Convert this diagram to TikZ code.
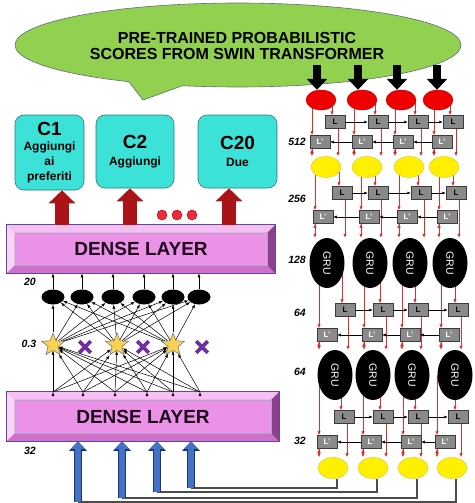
\documentclass[tikz,border=0pt]{standalone}
\usepackage{fontspec}
\setmainfont{Liberation Sans}
\usetikzlibrary{arrows.meta,shapes.geometric,shapes.misc,backgrounds}
\definecolor{bubblegreen}{RGB}{146,208,80}
\definecolor{bubbleline}{RGB}{95,110,120}
\definecolor{outcyan}{RGB}{60,226,216}
\definecolor{outteal}{RGB}{50,120,125}
\definecolor{denseface}{RGB}{236,146,230}
\definecolor{denselight}{RGB}{245,192,241}
\definecolor{densemid}{RGB}{206,112,200}
\definecolor{densedark}{RGB}{140,66,136}
\definecolor{denseline}{RGB}{100,70,160}
\definecolor{densetext}{RGB}{30,10,30}
\definecolor{blockcol}{RGB}{170,20,25}
\definecolor{dotred}{RGB}{240,40,60}
\definecolor{starfill}{RGB}{248,210,80}
\definecolor{starline}{RGB}{120,120,130}
\definecolor{crosspurple}{RGB}{112,48,160}
\definecolor{cellgray}{RGB}{138,138,138}
\definecolor{cellline}{RGB}{60,60,60}
\definecolor{linkred}{RGB}{228,45,45}
\definecolor{redfill}{RGB}{240,0,0}
\definecolor{yellowfill}{RGB}{255,240,0}
\definecolor{yellowline}{RGB}{230,200,60}
\definecolor{blueshaft}{RGB}{68,114,196}
\definecolor{blueedge}{RGB}{30,50,120}

\begin{document}
\begin{tikzpicture}[x=1pt,y=-1pt]
\tikzstyle{every node}+=[inner sep=0pt]
\tikzstyle{bubbletext}=[align=center, font=\bfseries\fontsize{16}{16}\selectfont]
\tikzstyle{outbox}=[draw=outteal, fill=outcyan, line width=0.6pt, rounded corners=9pt, align=center, font=\bfseries\fontsize{12}{15}\selectfont]
\tikzstyle{denselayer}=[draw=denseline, fill=denseface, line width=0.6pt, text=densetext, font=\bfseries\fontsize{19}{19}\selectfont]
\tikzstyle{bigarrow}=[draw=blockcol, line width=14pt, -{Triangle[width=26pt,length=13pt]}]
\tikzstyle{downarrow}=[draw=black, line width=8pt, -{Triangle[width=20pt,length=11pt]}]
\tikzstyle{bluearr}=[preaction={draw=blueedge, line width=7.6pt, -{Triangle[width=17pt,length=9.5pt]}}, draw=blueshaft, line width=5.6pt, -{Triangle[width=14pt,length=7.5pt]}]
\tikzstyle{reddot}=[circle, draw=red!60!black, fill=dotred, minimum size=10pt]
\tikzstyle{blackell}=[ellipse, fill=black, minimum width=23pt, minimum height=15pt]
\tikzstyle{starnode}=[star, star points=5, star point ratio=2.3, draw=starline, fill=starfill, line width=0.6pt, minimum size=24pt]
\tikzstyle{crossnode}=[cross out, draw=crosspurple, line width=3.6pt, minimum size=8pt]
\tikzstyle{netarr}=[draw=black, line width=0.5pt, -{Latex[length=4pt,width=3pt]}]
\tikzstyle{lbl}=[font=\bfseries\itshape\fontsize{10.5}{10.5}\selectfont]
\tikzstyle{redell}=[ellipse, fill=redfill, draw=red!70!black, line width=0.4pt, minimum width=30pt, minimum height=20pt]
\tikzstyle{yellell}=[ellipse, fill=yellowfill, draw=yellowline, line width=0.5pt, minimum width=30pt, minimum height=21pt]
\tikzstyle{gruell}=[ellipse, fill=black, minimum width=35pt, minimum height=50pt, text=white, font=\fontsize{10.5}{10.5}\selectfont]
\tikzstyle{cell}=[draw=cellline, fill=cellgray, line width=0.5pt, minimum width=20pt, minimum height=13pt, font=\bfseries\fontsize{8}{8}\selectfont]
\tikzstyle{cellp}=[cell, text=white]
\tikzstyle{redlink}=[draw=linkred, line width=0.8pt, -{Latex[length=4pt,width=3.5pt]}]
\tikzstyle{harr}=[draw=black, line width=0.6pt, -{Latex[length=3.5pt,width=3pt]}]
\tikzstyle{feedline}=[draw=black!70, line width=1.8pt]
\useasboundingbox (0,0) rectangle (474,503);
% speech bubble
\filldraw[fill=bubblegreen, draw=bubbleline, line width=0.6pt] (238,45) ellipse [x radius=223pt, y radius=42pt];
\fill[bubblegreen] (126,78) -- (143,100) -- (190,83) -- cycle;
\draw[bubbleline, line width=0.6pt] (128.5,81.3) -- (143,100) -- (182.5,85.7);
\node[bubbletext] (scores) at (237,46) {PRE-TRAINED PROBABILISTIC\\SCORES FROM SWIN TRANSFORMER};
% output classes
\node[outbox, minimum width=69pt, minimum height=75pt] (c1) at (49.5,152.5) {{\fontsize{19}{15}\selectfont C1}\\Aggiungi\\ai\\preferiti};
\node[outbox, minimum width=78pt, minimum height=73pt] (c2) at (135,151.5) {{\fontsize{19}{15}\selectfont C2}\\[2pt]Aggiungi};
\node[outbox, minimum width=79pt, minimum height=73pt] (c20) at (237.5,151.5) {{\fontsize{19}{15}\selectfont C20}\\[2pt]Due};
% upper dense layer
\node[denselayer, minimum width=268pt, minimum height=48pt] (dense1) at (141,249) {DENSE LAYER};
\fill[denselight] (dense1.north west) -- (dense1.north east) -- ([shift={(-8,8)}]dense1.north east) -- ([shift={(8,8)}]dense1.north west) -- cycle;
\fill[denselight!70!white] (dense1.north west) -- ([shift={(8,8)}]dense1.north west) -- ([shift={(8,-8)}]dense1.south west) -- (dense1.south west) -- cycle;
\fill[densemid] (dense1.south west) -- ([shift={(8,-8)}]dense1.south west) -- ([shift={(-8,-8)}]dense1.south east) -- (dense1.south east) -- cycle;
\fill[densedark] (dense1.north east) -- ([shift={(-8,8)}]dense1.north east) -- ([shift={(-8,-8)}]dense1.south east) -- (dense1.south east) -- cycle;
\draw[denseline!50, line width=0.3pt] ([shift={(8,8)}]dense1.north west) rectangle ([shift={(-8,-8)}]dense1.south east);
\draw[denseline, line width=0.6pt] (dense1.north west) rectangle (dense1.south east);
\draw[bigarrow] ([xshift=12.5pt]c1.south |- dense1.north) -- ([xshift=12.5pt]c1.south);
\draw[bigarrow] ([xshift=-5pt]c2.south |- dense1.north) -- ([xshift=-5pt]c2.south);
\draw[bigarrow] ([xshift=-8.5pt]c20.south |- dense1.north) -- ([xshift=-8.5pt]c20.south);
\node[reddot] (dot1) at (162,215) {};
\node[reddot] (dot2) at (177,215) {};
\node[reddot] (dot3) at (192,215) {};
% left labels
\node[lbl] (n20) at (30,282) {20};
\node[lbl] (n03) at (29,344) {0.3};
\node[lbl] (n32) at (30,451) {32};
% hidden units
\node[blackell] (e1) at (53,297) {};
\node[blackell] (e2) at (82,297) {};
\node[blackell] (e3) at (113,297) {};
\node[blackell] (e4) at (144,297) {};
\node[blackell] (e5) at (173,297) {};
\node[blackell] (e6) at (199,297) {};
\draw[netarr] (e1) edge (e1 |- dense1.south) (e2) edge (e2 |- dense1.south) (e3) edge (e3 |- dense1.south) (e4) edge (e4 |- dense1.south) (e5) edge (e5 |- dense1.south) (e6) edge (e6 |- dense1.south);
% dropout
\node[starnode] (s1) at (53,345) {};
\node[starnode] (s2) at (117,345) {};
\node[starnode] (s3) at (173,345) {};
\node[crossnode] (x1) at (85,347) {};
\node[crossnode] (x2) at (143,347) {};
\node[crossnode] (x3) at (202,347) {};
\draw[netarr] (s1) edge (e1) edge (e2) edge (e3) edge (e4) edge (e5) edge (e6);
\draw[netarr] (s2) edge (e1) edge (e2) edge (e3) edge (e4) edge (e5) edge (e6);
\draw[netarr] (s3) edge (e1) edge (e2) edge (e3) edge (e4) edge (e5) edge (e6);
% lower dense layer
\node[denselayer, minimum width=272pt, minimum height=49pt] (dense2) at (143,416.5) {DENSE LAYER};
\fill[denselight] (dense2.north west) -- (dense2.north east) -- ([shift={(-8,8)}]dense2.north east) -- ([shift={(8,8)}]dense2.north west) -- cycle;
\fill[denselight!70!white] (dense2.north west) -- ([shift={(8,8)}]dense2.north west) -- ([shift={(8,-8)}]dense2.south west) -- (dense2.south west) -- cycle;
\fill[densemid] (dense2.south west) -- ([shift={(8,-8)}]dense2.south west) -- ([shift={(-8,-8)}]dense2.south east) -- (dense2.south east) -- cycle;
\fill[densedark] (dense2.north east) -- ([shift={(-8,8)}]dense2.north east) -- ([shift={(-8,-8)}]dense2.south east) -- (dense2.south east) -- cycle;
\draw[denseline!50, line width=0.3pt] ([shift={(8,8)}]dense2.north west) rectangle ([shift={(-8,-8)}]dense2.south east);
\draw[denseline, line width=0.6pt] (dense2.north west) rectangle (dense2.south east);
\coordinate (p1) at (53,392);
\coordinate (p2) at (83,392);
\coordinate (p3) at (115,392);
\coordinate (p4) at (147,392);
\coordinate (p5) at (173,392);
\coordinate (p6) at (200,392);
\draw[netarr] (p1) edge (s1) edge (s2) edge (s3);
\draw[netarr] (p2) edge (s1) edge (s2) edge (s3);
\draw[netarr] (p3) edge (s1) edge (s2) edge (s3);
\draw[netarr] (p4) edge (s1) edge (s2) edge (s3);
\draw[netarr] (p5) edge (s1) edge (s2) edge (s3);
\draw[netarr] (p6) edge (s1) edge (s2) edge (s3);
% right labels
\node[lbl, anchor=east] (n512) at (306,142) {512};
\node[lbl, anchor=east] (n256) at (306,199) {256};
\node[lbl, anchor=east] (n128) at (306,260) {128};
\node[lbl, anchor=east] (n64a) at (306,313) {64};
\node[lbl, anchor=east] (n64b) at (306,372) {64};
\node[lbl, anchor=east] (n32b) at (306,441) {32};
% score inputs
\node[redell] (r1) at (321,100) {};
\node[redell] (r2) at (362,100) {};
\node[redell] (r3) at (401,100) {};
\node[redell] (r4) at (438,100) {};
\draw[downarrow] ([xshift=-4pt,yshift=25pt]r1.north) -- ([xshift=-4pt]r1.north);
\draw[downarrow] ([xshift=-4pt,yshift=25pt]r2.north) -- ([xshift=-4pt]r2.north);
\draw[downarrow] ([xshift=-4pt,yshift=25pt]r3.north) -- ([xshift=-4pt]r3.north);
\draw[downarrow] ([xshift=-1pt,yshift=25pt]r4.north) -- ([xshift=-1pt]r4.north);
% stage 1 (512)
\node[cell] (l11) at (335,122) {L};
\node[cell] (l12) at (378,122) {L};
\node[cell] (l13) at (418,122) {L};
\node[cell] (l14) at (453,122) {L};
\node[cellp] (m11) at (320,142) {L'};
\node[cellp] (m12) at (362,142) {L'};
\node[cellp] (m13) at (403,142) {L'};
\node[cellp] (m14) at (442,142) {L'};
\node[yellell] (y1) at (326,167) {};
\node[yellell] (y2) at (367,167) {};
\node[yellell] (y3) at (409,167) {};
\node[yellell] (y4) at (444,167) {};
% stage 2 (256)
\node[cell] (l21) at (342,193) {L};
\node[cell] (l22) at (378,193) {L};
\node[cell] (l23) at (421,193) {L};
\node[cell] (l24) at (456,193) {L};
\node[cellp] (m21) at (323,217) {L'};
\node[cellp] (m22) at (369,217) {L'};
\node[cellp] (m23) at (407,217) {L'};
\node[cellp] (m24) at (447,217) {L'};
\node[gruell] (g1) at (327,263) {\rotatebox{-90}{GRU}};
\node[gruell] (g2) at (370,263) {\rotatebox{-90}{GRU}};
\node[gruell] (g3) at (410,263) {\rotatebox{-90}{GRU}};
\node[gruell] (g4) at (450,263) {\rotatebox{-90}{GRU}};
% stage 3 (64)
\node[cell] (l31) at (345,310) {L};
\node[cell] (l32) at (383,310) {L};
\node[cell] (l33) at (418,310) {L};
\node[cell] (l34) at (458,310) {L};
\node[cellp] (m31) at (327,335) {L'};
\node[cellp] (m32) at (372,335) {L'};
\node[cellp] (m33) at (410,335) {L'};
\node[cellp] (m34) at (449,335) {L'};
\node[gruell] (h1) at (335,375) {\rotatebox{-90}{GRU}};
\node[gruell] (h2) at (373,375) {\rotatebox{-90}{GRU}};
\node[gruell] (h3) at (412,375) {\rotatebox{-90}{GRU}};
\node[gruell] (h4) at (455,375) {\rotatebox{-90}{GRU}};
% stage 4 (32)
\node[cell] (l41) at (344,417) {L};
\node[cell] (l42) at (383,417) {L};
\node[cell] (l43) at (418,417) {L};
\node[cell] (l44) at (458,417) {L};
\node[cellp] (m41) at (327,442) {L'};
\node[cellp] (m42) at (371,442) {L'};
\node[cellp] (m43) at (411,442) {L'};
\node[cellp] (m44) at (445,442) {L'};
\node[yellell] (z1) at (333,468) {};
\node[yellell] (z2) at (373,468) {};
\node[yellell] (z3) at (413,468) {};
\node[yellell] (z4) at (452,468) {};
% forward and backward links
\draw[harr] (l11) edge (l12) (l12) edge (l13) (l13) edge (l14);
\draw[harr] (m14) edge (m13) (m13) edge (m12) (m12) edge (m11);
\draw[harr] (l21) edge (l22) (l22) edge (l23) (l23) edge (l24);
\draw[harr] (m24) edge (m23) (m23) edge (m22) (m22) edge (m21);
\draw[harr] (l31) edge (l32) (l32) edge (l33) (l33) edge (l34);
\draw[harr] (m34) edge (m33) (m33) edge (m32) (m32) edge (m31);
\draw[harr] (l41) edge (l42) (l42) edge (l43) (l43) edge (l44);
\draw[harr] (m44) edge (m43) (m43) edge (m42) (m42) edge (m41);
\begin{scope}[on background layer]
\draw[redlink] ([xshift=-8pt]m11.north |- r1.center) edge ([xshift=-8pt]m11.north) ([xshift=-3pt]l11.north |- r1.center) edge ([xshift=-3pt]l11.north) ([xshift=3pt]l11.south) edge ([xshift=3pt]l11.south |- y1.north) ([xshift=-8pt]m11.south) edge ([xshift=-8pt]m11.south |- y1.north);
\draw[redlink] ([xshift=-8pt]m12.north |- r2.center) edge ([xshift=-8pt]m12.north) ([xshift=-3pt]l12.north |- r2.center) edge ([xshift=-3pt]l12.north) ([xshift=3pt]l12.south) edge ([xshift=3pt]l12.south |- y2.north) ([xshift=-8pt]m12.south) edge ([xshift=-8pt]m12.south |- y2.north);
\draw[redlink] ([xshift=-8pt]m13.north |- r3.center) edge ([xshift=-8pt]m13.north) ([xshift=-3pt]l13.north |- r3.center) edge ([xshift=-3pt]l13.north) ([xshift=3pt]l13.south) edge ([xshift=3pt]l13.south |- y3.north) ([xshift=-8pt]m13.south) edge ([xshift=-8pt]m13.south |- y3.north);
\draw[redlink] ([xshift=-8pt]m14.north |- r4.center) edge ([xshift=-8pt]m14.north) ([xshift=-3pt]l14.north |- r4.center) edge ([xshift=-3pt]l14.north) ([xshift=3pt]l14.south) edge ([xshift=3pt]l14.south |- y4.north) ([xshift=-8pt]m14.south) edge ([xshift=-8pt]m14.south |- y4.north);
\draw[redlink] ([xshift=-8pt]m21.north |- y1.center) edge ([xshift=-8pt]m21.north) ([xshift=-3pt]l21.north |- y1.center) edge ([xshift=-3pt]l21.north) ([xshift=3pt]l21.south) edge ([xshift=3pt]l21.south |- g1.north) ([xshift=-8pt]m21.south) edge ([xshift=-8pt]m21.south |- g1.north);
\draw[redlink] ([xshift=-8pt]m22.north |- y2.center) edge ([xshift=-8pt]m22.north) ([xshift=-3pt]l22.north |- y2.center) edge ([xshift=-3pt]l22.north) ([xshift=3pt]l22.south) edge ([xshift=3pt]l22.south |- g2.north) ([xshift=-8pt]m22.south) edge ([xshift=-8pt]m22.south |- g2.north);
\draw[redlink] ([xshift=-8pt]m23.north |- y3.center) edge ([xshift=-8pt]m23.north) ([xshift=-3pt]l23.north |- y3.center) edge ([xshift=-3pt]l23.north) ([xshift=3pt]l23.south) edge ([xshift=3pt]l23.south |- g3.north) ([xshift=-8pt]m23.south) edge ([xshift=-8pt]m23.south |- g3.north);
\draw[redlink] ([xshift=-8pt]m24.north |- y4.center) edge ([xshift=-8pt]m24.north) ([xshift=-3pt]l24.north |- y4.center) edge ([xshift=-3pt]l24.north) ([xshift=3pt]l24.south) edge ([xshift=3pt]l24.south |- g4.north) ([xshift=-8pt]m24.south) edge ([xshift=-8pt]m24.south |- g4.north);
\draw[redlink] ([xshift=-8pt]m31.north |- g1.center) edge ([xshift=-8pt]m31.north) ([xshift=-3pt]l31.north |- g1.center) edge ([xshift=-3pt]l31.north) ([xshift=3pt]l31.south) edge ([xshift=3pt]l31.south |- h1.north) ([xshift=-8pt]m31.south) edge ([xshift=-8pt]m31.south |- h1.north);
\draw[redlink] ([xshift=-8pt]m32.north |- g2.center) edge ([xshift=-8pt]m32.north) ([xshift=-3pt]l32.north |- g2.center) edge ([xshift=-3pt]l32.north) ([xshift=3pt]l32.south) edge ([xshift=3pt]l32.south |- h2.north) ([xshift=-8pt]m32.south) edge ([xshift=-8pt]m32.south |- h2.north);
\draw[redlink] ([xshift=-8pt]m33.north |- g3.center) edge ([xshift=-8pt]m33.north) ([xshift=-3pt]l33.north |- g3.center) edge ([xshift=-3pt]l33.north) ([xshift=3pt]l33.south) edge ([xshift=3pt]l33.south |- h3.north) ([xshift=-8pt]m33.south) edge ([xshift=-8pt]m33.south |- h3.north);
\draw[redlink] ([xshift=-8pt]m34.north |- g4.center) edge ([xshift=-8pt]m34.north) ([xshift=-3pt]l34.north |- g4.center) edge ([xshift=-3pt]l34.north) ([xshift=3pt]l34.south) edge ([xshift=3pt]l34.south |- h4.north) ([xshift=-8pt]m34.south) edge ([xshift=-8pt]m34.south |- h4.north);
\draw[redlink] ([xshift=-8pt]m41.north |- h1.center) edge ([xshift=-8pt]m41.north) ([xshift=-3pt]l41.north |- h1.center) edge ([xshift=-3pt]l41.north) ([xshift=3pt]l41.south) edge ([xshift=3pt]l41.south |- z1.north) ([xshift=-8pt]m41.south) edge ([xshift=-8pt]m41.south |- z1.north);
\draw[redlink] ([xshift=-8pt]m42.north |- h2.center) edge ([xshift=-8pt]m42.north) ([xshift=-3pt]l42.north |- h2.center) edge ([xshift=-3pt]l42.north) ([xshift=3pt]l42.south) edge ([xshift=3pt]l42.south |- z2.north) ([xshift=-8pt]m42.south) edge ([xshift=-8pt]m42.south |- z2.north);
\draw[redlink] ([xshift=-8pt]m43.north |- h3.center) edge ([xshift=-8pt]m43.north) ([xshift=-3pt]l43.north |- h3.center) edge ([xshift=-3pt]l43.north) ([xshift=3pt]l43.south) edge ([xshift=3pt]l43.south |- z3.north) ([xshift=-8pt]m43.south) edge ([xshift=-8pt]m43.south |- z3.north);
\draw[redlink] ([xshift=-8pt]m44.north |- h4.center) edge ([xshift=-8pt]m44.north) ([xshift=-3pt]l44.north |- h4.center) edge ([xshift=-3pt]l44.north) ([xshift=3pt]l44.south) edge ([xshift=3pt]l44.south |- z4.north) ([xshift=-8pt]m44.south) edge ([xshift=-8pt]m44.south |- z4.north);
\end{scope}
% feedback into lower dense layer
\coordinate (q1) at (78,502);
\coordinate (q2) at (122,498);
\coordinate (q3) at (157,492);
\coordinate (q4) at (191,488);
\draw[feedline] ([xshift=4pt]z1.south) |- (q4);
\draw[feedline] ([xshift=4pt]z2.south) |- (q3);
\draw[feedline] ([xshift=4pt]z3.south) |- (q2);
\draw[feedline] ([xshift=4pt]z4.south) |- (q1);
\draw[bluearr] (q1) -- (q1 |- dense2.south);
\draw[bluearr] (q2) -- (q2 |- dense2.south);
\draw[bluearr] (q3) -- (q3 |- dense2.south);
\draw[bluearr] (q4) -- (q4 |- dense2.south);
\end{tikzpicture}
\end{document}
